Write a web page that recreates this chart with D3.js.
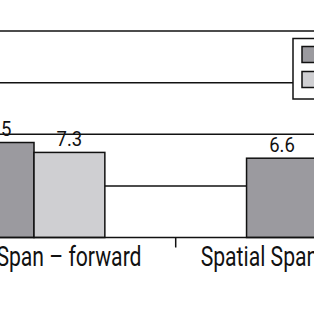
<!DOCTYPE html>
<html>
<head>
<meta charset="utf-8">
<script src="https://cdn.jsdelivr.net/npm/d3@7"></script>
<style>
  body { margin: 0; background: #fff; }
  svg text { font-family: Roboto, "Noto Sans", sans-serif; fill: #111; }
</style>
</head>
<body>
<svg width="314" height="314"></svg>
<script>
const groups = ['Spatial Span – forward', 'Spatial Span – backward']
const series = ['Patients', 'Controls']
const patients = [8.5, 6.6]
const controls = [7.3, 6.0]
const colors = ['#9b9a9f', '#cfcfd2']

const svg = d3.select('svg')

// plot area is cropped: only the middle of the figure is in view
const x0 = d3.scaleBand()
             .domain(groups)
             .range([-107.7, 459.1])
const x1 = d3.scaleBand()
             .domain(series)
             .range([0, x0.bandwidth()])
             .paddingOuter(1)
const y = d3.scaleLinear()
            .domain([-3, 22])
            .range([237.5, 31])

const gridValues = d3.range(-3, 22.01, 6.25)

svg.append('g')
   .selectAll('line')
   .data(gridValues.slice(1))
   .enter().append('line')
   .attr('x1', 0)
   .attr('x2', 314)
   .attr('y1', d => y(d))
   .attr('y2', d => y(d))
   .attr('stroke', '#111')
   .attr('stroke-width', 1.5)

const rows = groups.map((g, i) => ({ group: g, values: [patients[i], controls[i]] }))

const grp = svg.selectAll('g.grp')
               .data(rows)
               .enter().append('g')
               .attr('class', 'grp')
               .attr('transform', d => 'translate(' + x0(d.group) + ',0)')

grp.selectAll('rect')
   .data(d => d.values.map((v, i) => ({ key: series[i], value: v, i })))
   .enter().append('rect')
   .attr('x', d => x1(d.key))
   .attr('y', d => y(d.value))
   .attr('width', x1.bandwidth())
   .attr('height', d => y(-3) - y(d.value))
   .attr('fill', d => colors[d.i])
   .attr('stroke', '#111')
   .attr('stroke-width', 1.5)

// condensed look: squeeze the glyphs horizontally
grp.selectAll('text.val')
   .data(d => d.values.map((v, i) => ({ key: series[i], value: v })))
   .enter().append('text')
   .attr('class', 'val')
   .attr('transform', d => 'translate(' + (x1(d.key) + x1.bandwidth() / 2) + ',' + (y(d.value) - 6.5) + ') scale(0.88,1)')
   .attr('text-anchor', 'middle')
   .style('font-size', '21px')
   .text(d => d3.format('.1f')(d.value))

// x axis
const xAxis = svg.append('g')
xAxis.append('line')
     .attr('x1', 0).attr('x2', 314)
     .attr('y1', y(-3)).attr('y2', y(-3))
     .attr('stroke', '#111')
     .attr('stroke-width', 1.5)
xAxis.selectAll('line.tick')
     .data(groups.slice(1))
     .enter().append('line')
     .attr('class', 'tick')
     .attr('x1', d => x0(d)).attr('x2', d => x0(d))
     .attr('y1', y(-3)).attr('y2', y(-3) + 10)
     .attr('stroke', '#111')
     .attr('stroke-width', 1.5)
xAxis.selectAll('text')
     .data(groups)
     .enter().append('text')
     .attr('transform', d => 'translate(' + (x0(d) + x0.bandwidth() / 2) + ',265.5) scale(0.77,1)')
     .attr('text-anchor', 'middle')
     .style('font-size', '27.5px')
     .text(d => d)

// legend
const legend = svg.append('g').attr('transform', 'translate(293,38.5)')
legend.append('rect')
      .attr('width', 120)
      .attr('height', 60.5)
      .attr('fill', '#fff')
      .attr('stroke', '#111')
      .attr('stroke-width', 1.5)
const item = legend.selectAll('g')
                   .data(series)
                   .enter().append('g')
                   .attr('transform', (d, i) => 'translate(9,' + (8 + i * 25) + ')')
item.append('rect')
    .attr('width', 24)
    .attr('height', 16)
    .attr('fill', (d, i) => colors[i])
    .attr('stroke', '#111')
    .attr('stroke-width', 1.5)
item.append('text')
    .attr('x', 32)
    .attr('y', 14)
    .style('font-size', '18px')
    .text(d => d)
</script>
</body>
</html>
